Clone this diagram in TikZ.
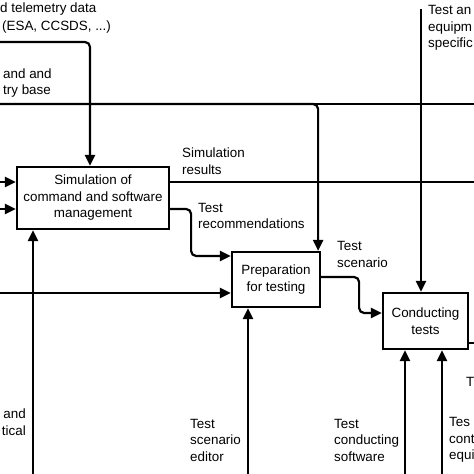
\documentclass[tikz,border=0pt]{standalone}
\usepackage{fontspec}
\setmainfont{Liberation Sans}
\usetikzlibrary{calc}
\usetikzlibrary{arrows.meta}
\tikzset{%
  myedge/.style={-{Triangle[length=11pt,width=10pt]}, line width=2.2pt, rounded corners=5pt},
  myline/.style={line width=2.2pt, rounded corners=5pt},
  mybox/.style={rectangle, draw=black, line width=2.2pt, align=center, inner sep=0pt,
    font=\fontsize{13.4}{16.5}\selectfont},
  mylabel/.style={align=left, inner sep=0pt, anchor=west, font=\fontsize{13.4}{16.5}\selectfont}
}

\begin{document}
\begin{tikzpicture}[x=1pt,y=1pt]
  \useasboundingbox (0,0) rectangle (474,474);

  \node[mybox, minimum width=152pt, minimum height=62pt] (sim) at (93,276) {Simulation of\\command and software\\management};
  \node[mybox, minimum width=88pt, minimum height=55pt] (prep) at (276,194.5) {Preparation\\for testing};
  \node[mybox, minimum width=85pt, minimum height=56pt] (cond) at (425.5,153) {Conducting\\tests};

  \coordinate (inA) at (0,292);
  \coordinate (inB) at (0,265);
  \coordinate (inC) at (0,181);
  \coordinate (std) at (0,432);
  \coordinate (base) at (0,370);
  \coordinate (baseR) at (474,370);
  \coordinate (spec) at (421,465);
  \coordinate (resR) at (474,292);
  \coordinate (outR) at (474,131);
  \coordinate (mechA) at (33,0);
  \coordinate (mechB) at (248,0);
  \coordinate (mechC) at (405,0);
  \coordinate (mechD) at (442,0);

  \draw[myedge] (inA) -- (inA -| sim.west);
  \draw[myedge] (inB) -- (inB -| sim.west);
  \draw[myedge] (std) -| ([xshift=-3pt]sim.north);
  \draw[myline] (base) -- (baseR);
  \draw[myedge] (base) -| ([xshift=-3pt]prep.north east);
  \draw[myedge] (spec) -- (spec |- cond.north);
  \draw[myline] (inA -| sim.east) -- (resR);
  \draw[myedge] (inB -| sim.east) -- ++(21,0) |- ([yshift=23.5pt]prep.west);
  \draw[myedge] (inC) -- (inC -| prep.west);
  \draw[myedge] (mechA) -- (mechA |- sim.south);
  \draw[myedge] (mechB) -- (mechB |- prep.south);
  \draw[myedge] ([yshift=2.5pt]prep.east) -- ++(38,0) |- ([yshift=8pt]cond.west);
  \draw[myedge] (mechC) -- (mechC |- cond.south);
  \draw[myedge] (mechD) -- (mechD |- cond.south);
  \draw[myline] (outR -| cond.east) -- (outR);

  \node[mylabel] (stdA) at (0,465) {d telemetry data};
  \node[mylabel] (stdB) at (2,447) {(ESA, CCSDS, ...)};
  \node[mylabel] (baseA) at (3,400) {and and};
  \node[mylabel] (baseB) at (3,383) {try base};
  \node[mylabel] (specL) at (428,446) {Test an\\equipm\\specific};
  \node[mylabel] (resL) at (182,313) {Simulation\\results};
  \node[mylabel] (recL) at (198,258) {Test\\recommendations};
  \node[mylabel] (scnL) at (337,219.5) {Test\\scenario};
  \node[mylabel, align=right, anchor=east] (techL) at (26,52) {and\\tical};
  \node[mylabel] (edL) at (190,34) {Test\\scenario\\editor};
  \node[mylabel] (swL) at (334,34) {Test\\conducting\\software};
  \node[mylabel] (tL) at (466,92) {T};
  \node[mylabel] (eqL) at (449,34) {Tes\\cont\\equi};

\end{tikzpicture}
\end{document}
